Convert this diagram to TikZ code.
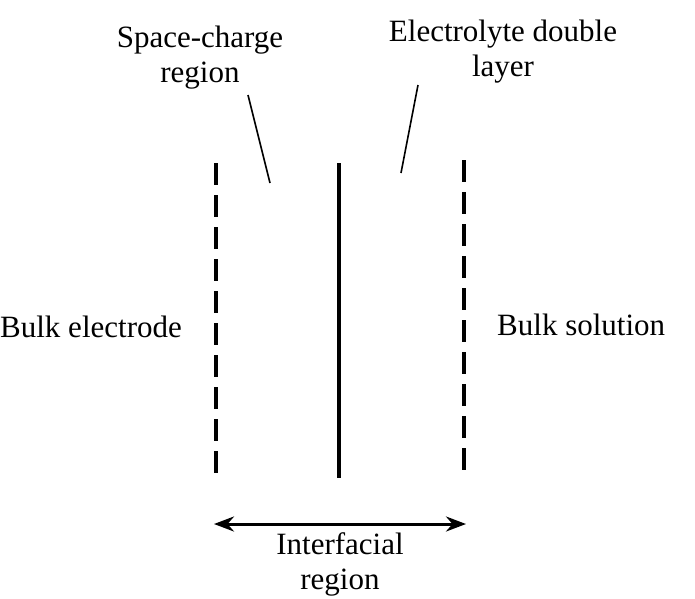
\documentclass[tikz,border=0pt]{standalone}
\usepackage{fontspec}
\setmainfont{Liberation Serif}
\usetikzlibrary{arrows.meta}
\begin{document}
\begin{tikzpicture}[x=1pt,y=-1pt,
  lbl/.style={align=center,font=\fontsize{31}{35}\selectfont,inner sep=0pt},
  bnd/.style={line width=3.4pt},
  dsh/.style={bnd,dash pattern=on 22pt off 10pt}]
\useasboundingbox (0,0) rectangle (695,598);
\coordinate (l1) at (216,163); \coordinate (l2) at (216,478);
\coordinate (m1) at (339,163); \coordinate (m2) at (339,478);
\coordinate (r1) at (464,160); \coordinate (r2) at (464,475);
\draw[dsh] (l1) -- (l2);
\draw[bnd] (m1) -- (m2);
\draw[dsh] (r1) -- (r2);
\node[lbl] (sc) at (200,58) {Space-charge\\region};
\node[lbl] (ed) at (503,52) {Electrolyte double\\layer};
\coordinate (scp) at (270,183); \coordinate (edp) at (401,173);
\draw[line width=1.6pt] (248,95) -- (scp);
\draw[line width=1.6pt] (418,85) -- (edp);
\node[lbl,anchor=west] (be) at (0,327) {Bulk electrode};
\node[lbl,anchor=west] (bs) at (497,325) {Bulk solution};
\coordinate (a1) at (214,524); \coordinate (a2) at (466,524);
\draw[line width=3pt,{Stealth[length=20pt,width=15pt]}-{Stealth[length=20pt,width=15pt]}] (a1) -- (a2);
\node[lbl] (ir) at (340,564) {Interfacial\\region};
\end{tikzpicture}
\end{document}
